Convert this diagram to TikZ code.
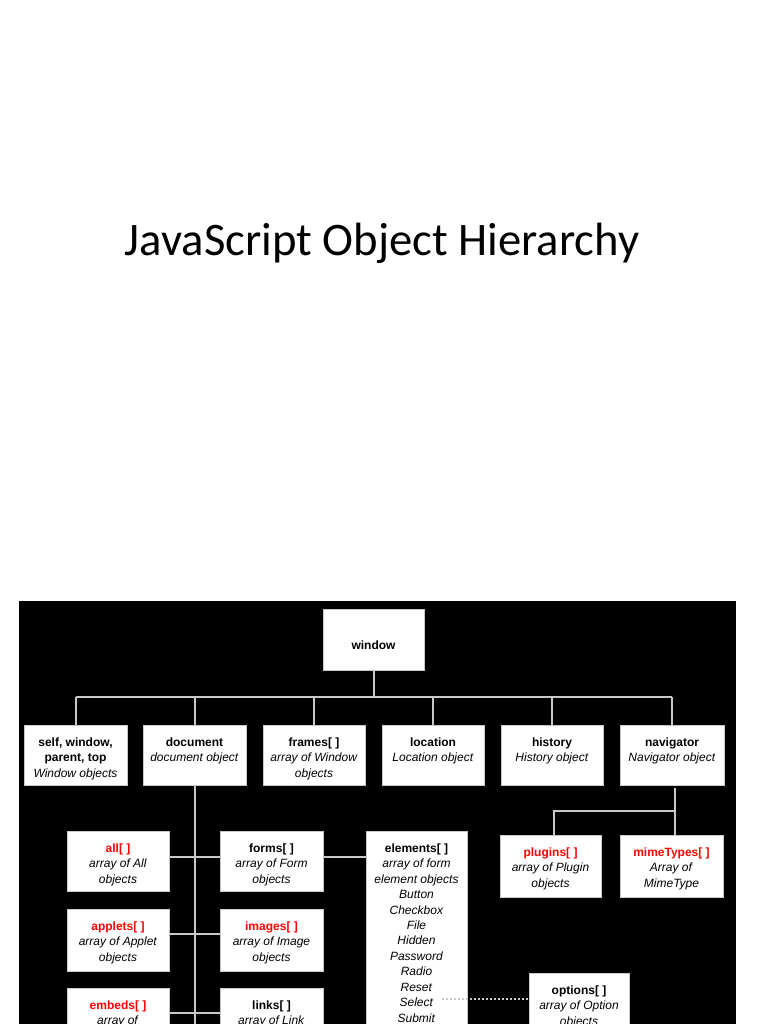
\documentclass[tikz,border=0pt]{standalone}
\usepackage{fontspec}
\setmainfont{Liberation Sans}
\newfontfamily\titlefont{Carlito}
\definecolor{ln}{HTML}{C8C8C8}
\definecolor{rd}{HTML}{FF0000}
\tikzset{
  box/.style={draw=ln, line width=0.75pt, fill=white, inner sep=0pt},
  txt/.style={anchor=north, align=center, inner sep=0pt, font=\fontsize{9}{11.6}\selectfont},
  wire/.style={draw=ln, line width=1.6pt},
}
\newcommand{\bx}[6]{%
  \node[box, minimum width={(#4-#2)*0.75pt}, minimum height={(#5-#3)*0.75pt}] (#1) at ({(#2+#4)/2},{(#3+#5)/2}) {};
  \node[txt] (#1t) at ([yshift=-9.5pt]#1.north) {#6};}
\begin{document}
\begin{tikzpicture}[x=0.75pt,y=-0.75pt]
\useasboundingbox (0,0) rectangle (768,1024);
\clip (0,0) rectangle (768,1024);
\fill[white] (0,0) rectangle (768,1024);
\node[font=\titlefont\fontsize{35}{40}\selectfont] (title) at (382,243) {JavaScript Object Hierarchy};
\fill[black] (19,601) rectangle (736,1030);
% wires
\coordinate (bus) at (374,697);
\draw[wire] (76,697) -- (672,697);
\foreach \x in {76,195,314,433,552,672} \draw[wire] (\x,697) -- (\x,728);
\draw[wire] (374,668) -- (bus);
\draw[wire] (195,780) -- (195,1030);
\draw[wire] (169,857) -- (220,857);
\draw[wire] (323,857) -- (366,857);
\draw[wire] (169,934) -- (220,934);
\draw[wire] (169,1013) -- (220,1013);
\draw[wire] (675,788) -- (675,838);
\draw[wire] (675,811) -- (554,811) -- (554,838);
% boxes
\bx{window}{323}{609}{424}{670}{}
\node[font=\fontsize{9}{11}\selectfont\bfseries] at ([yshift=-4pt]window.center) {window};
\bx{self}{24}{725}{127}{785}{\textbf{self, window,}\\\textbf{parent, top}\\\textit{Window objects}}
\bx{document}{143}{725}{246}{785}{\textbf{document}\\\textit{document object}}
\bx{frames}{263}{725}{365}{785}{\textbf{frames[ ]}\\\textit{array of Window}\\\textit{objects}}
\bx{location}{382}{725}{484}{785}{\textbf{location}\\\textit{Location object}}
\bx{history}{501}{725}{603}{785}{\textbf{history}\\\textit{History object}}
\bx{navigator}{620}{725}{724}{785}{\textbf{navigator}\\\textit{Navigator object}}
\bx{all}{67}{831}{169}{891}{\textcolor{rd}{\textbf{all[ ]}}\\\textit{array of All}\\\textit{objects}}
\bx{forms}{220}{831}{323}{891}{\textbf{forms[ ]}\\\textit{array of Form}\\\textit{objects}}
\bx{elements}{366}{831}{467}{1040}{\textbf{elements[ ]}\\\textit{array of form}\\\textit{element objects}\\\textit{Button}\\\textit{Checkbox}\\\textit{File}\\\textit{Hidden}\\\textit{Password}\\\textit{Radio}\\\textit{Reset}\\\textit{Select}\\\textit{Submit}}
\bx{plugins}{500}{835}{601}{897}{\textcolor{rd}{\textbf{plugins[ ]}}\\\textit{array of Plugin}\\\textit{objects}}
\bx{mime}{620}{835}{723}{897}{\textcolor{rd}{\textbf{mimeTypes[ ]}}\\\textit{Array of}\\\textit{MimeType}}
\bx{applets}{67}{909}{169}{971}{\textcolor{rd}{\textbf{applets[ ]}}\\\textit{array of Applet}\\\textit{objects}}
\bx{images}{220}{909}{323}{971}{\textcolor{rd}{\textbf{images[ ]}}\\\textit{array of Image}\\\textit{objects}}
\bx{embeds}{67}{988}{169}{1050}{\textcolor{rd}{\textbf{embeds[ ]}}\\\textit{array of}\\\textit{objects}}
\bx{links}{220}{988}{323}{1050}{\textbf{links[ ]}\\\textit{array of Link}\\\textit{objects}}
\bx{options}{529}{973}{629}{1035}{\textbf{options[ ]}\\\textit{array of Option}\\\textit{objects}}
\coordinate (sel) at (442,999);
\draw[ln, line width=1.5pt, dash pattern=on 1.5pt off 1.5pt] (sel) -- (options.west |- sel);
\end{tikzpicture}
\end{document}
